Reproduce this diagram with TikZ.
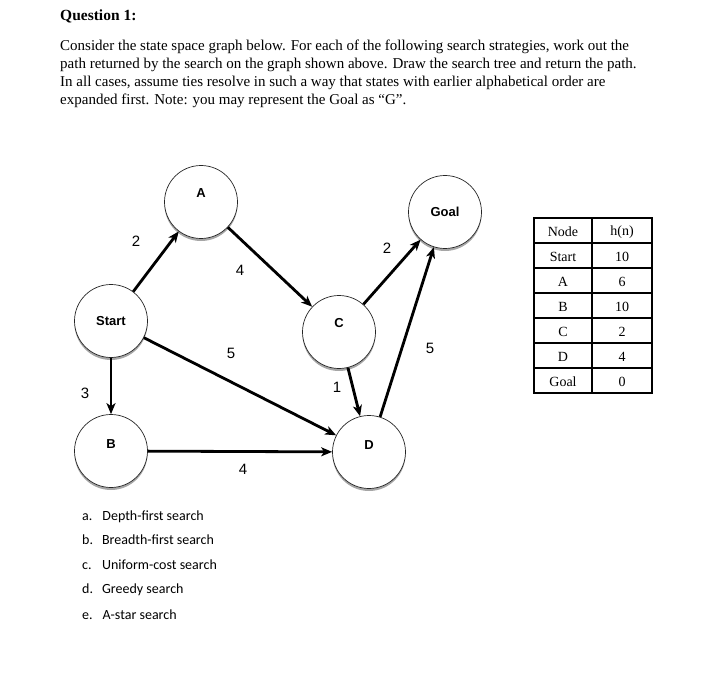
\documentclass[tikz,border=0pt]{standalone}
\usepackage{fontspec}
\setmainfont{Liberation Serif}
\newfontfamily\helv{Liberation Sans}
\newfontfamily\calib{Carlito}
\usetikzlibrary{arrows.meta,shadows}
\begin{document}
\begin{tikzpicture}[x=1pt,y=-1pt,
  st/.style={circle,draw=black!85,line width=0.7pt,fill=white,minimum size=73pt,inner sep=0pt,
    drop shadow={shadow xshift=0pt,shadow yshift=-2.5pt,opacity=0.35,fill=black}},
  nl/.style={font=\helv\bfseries\fontsize{13}{15}\selectfont,inner sep=0pt},
  edge/.style={line width=2.8pt,-{Stealth[length=11pt,width=9pt,inset=3pt]}},
  wl/.style={font=\helv\fontsize{15}{17}\selectfont,inner sep=0pt},
  para/.style={anchor=base west,inner sep=0pt,font=\fontsize{15}{18}\selectfont},
  tx/.style={font=\fontsize{14}{16}\selectfont,inner sep=0pt},
  li/.style={anchor=base west,inner sep=0pt,font=\calib\fontsize{14}{16}\selectfont}]
\useasboundingbox[fill=white] (0,0) rectangle (702,690);
% header text
\node[para,font=\bfseries\fontsize{15.5}{18}\selectfont] (q) at (60,21) {Question 1:};
\node[para] (l1) at (60,51) {Consider the state space graph below. For each of the following search strategies, work out the};
\node[para] (l2) at (60,69) {path returned by the search on the graph shown above. Draw the search tree and return the path.};
\node[para] (l3) at (60,87) {In all cases, assume ties resolve in such a way that states with earlier alphabetical order are};
\node[para] (l4) at (60,105) {expanded first. Note: you may represent the Goal as ``G''.};
% graph nodes
\node[st,label={[nl,yshift=9pt]center:A}] (A) at (201,202) {};
\node[st,label={[nl,yshift=0pt]center:Start}] (S) at (111,321) {};
\node[st,label={[nl,yshift=7pt]center:B}] (B) at (111,451) {};
\node[st,label={[nl,yshift=9pt]center:C}] (C) at (339,332) {};
\node[st,label={[nl,yshift=7pt]center:D}] (D) at (369,452) {};
\node[st,label={[nl,yshift=0pt]center:Goal}] (G) at (445,212) {};
% edges
\draw[edge] (S) -- (A);
\draw[edge] (A) -- (C);
\draw[edge] (S) -- (D);
\draw[edge] (S) -- (B);
\draw[edge] (B) -- (D);
\draw[edge] (C) -- (G);
\draw[edge] (C) -- (D);
\draw[edge] (D) -- (G);
% weights
\node[wl] (w1) at (136,241) {2};
\node[wl] (w2) at (240,270) {4};
\node[wl] (w3) at (231,353) {5};
\node[wl] (w4) at (85,393) {3};
\node[wl] (w5) at (243,469) {4};
\node[wl] (w6) at (387,248) {2};
\node[wl] (w7) at (337,387) {1};
\node[wl] (w8) at (430,348) {5};
% table
\draw[line width=1.1pt] (534,218) rectangle (652,393);
\draw[line width=1.1pt] (592,218) -- (592,393);
\foreach \r in {1,...,6} \draw[line width=1.1pt] (534,218+25*\r) -- (652,218+25*\r);
\foreach \n/\h [count=\i from 0] in {Node/h(n),Start/10,A/6,B/10,C/2,D/4,Goal/0}{
  \node[tx] (tn\i) at (563,232+25*\i) {\n};
  \node[tx] (th\i) at (622,232+25*\i) {\h};
}
% list
\node[li] (la) at (82,520) {a.\hspace{10pt}Depth-first search};
\node[li] (lb) at (82,544) {b.\hspace{9pt}Breadth-first search};
\node[li] (lc) at (82,569) {c.\hspace{10.5pt}Uniform-cost search};
\node[li] (ld) at (82,593) {d.\hspace{9pt}Greedy search};
\node[li] (le) at (82,619) {e.\hspace{10pt}A-star search};
\end{tikzpicture}
\end{document}
